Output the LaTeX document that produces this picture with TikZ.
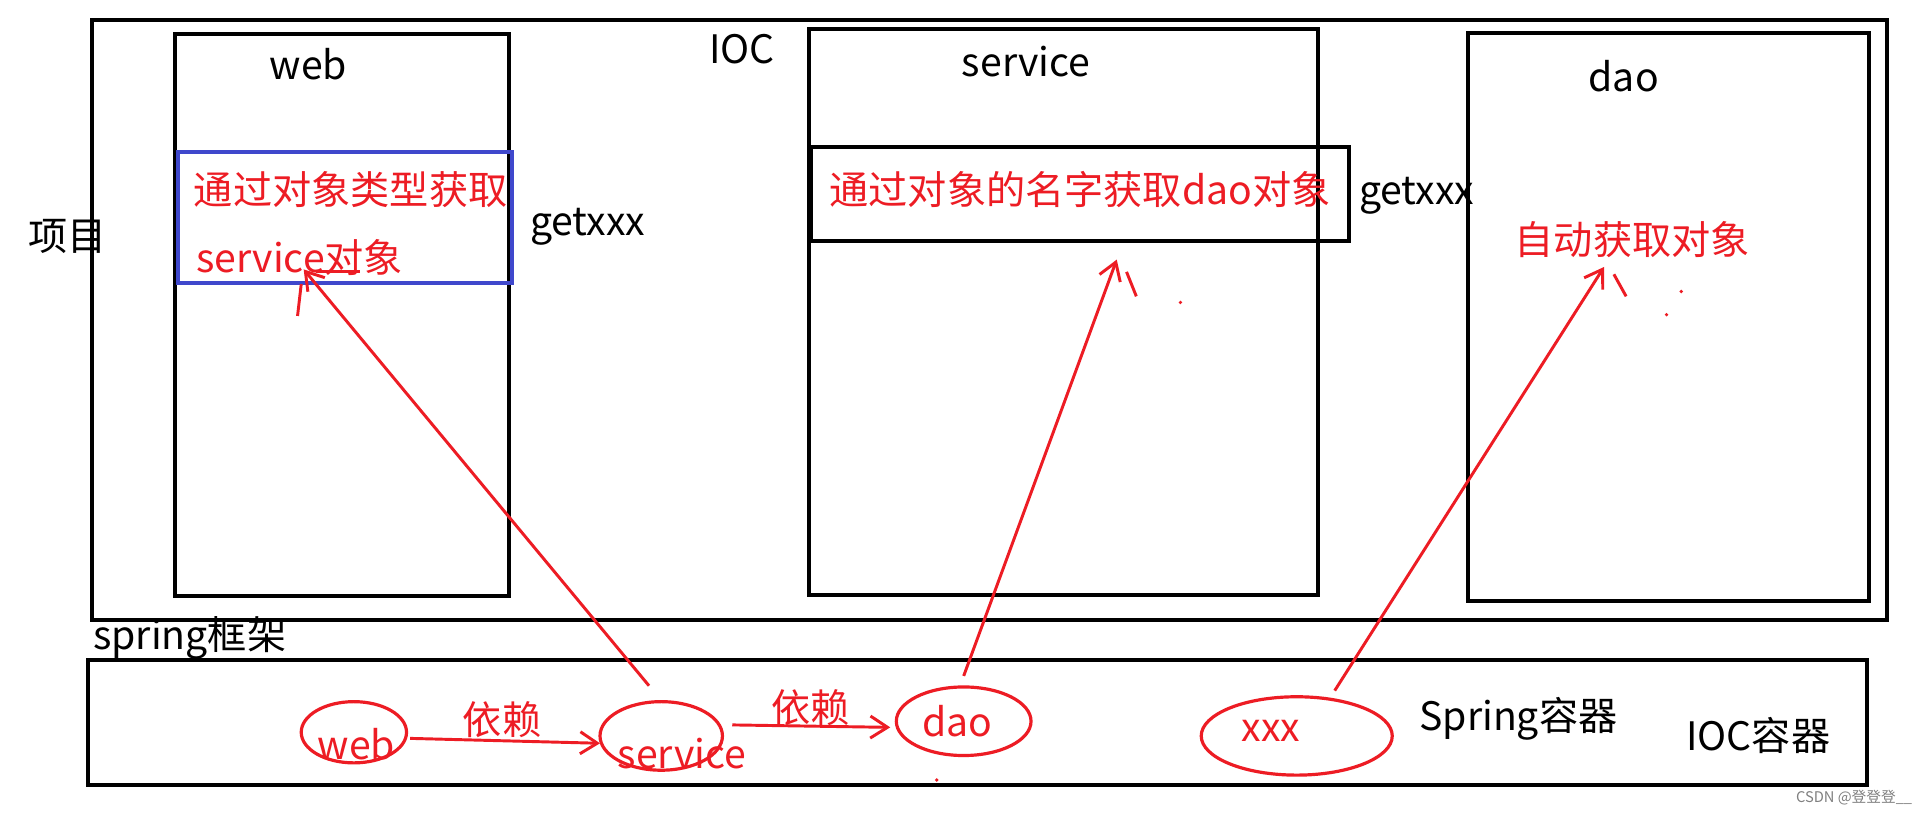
\documentclass[tikz,border=0pt]{standalone}
\usepackage{fontspec}
\setmainfont{Noto Sans CJK SC}
\usetikzlibrary{arrows.meta}
\definecolor{rd}{RGB}{237,28,36}
\definecolor{bl}{RGB}{63,72,204}
\begin{document}
\begin{tikzpicture}[x=0.5pt,y=-0.5pt,
  blk/.style={draw=black,line width=1.6pt},
  txt/.style={font=\fontsize{16}{18}\selectfont,inner sep=0pt},
  rtxt/.style={txt,text=rd},
  ell/.style={draw=rd,line width=1.3pt},
  rarr/.style={draw=rd,line width=1.2pt,-{Straight Barb[length=7pt,width=9pt]}}]
\useasboundingbox[fill=white] (0,0) rectangle (1568,666);
\draw[blk] (75,16) rectangle (1541,506);
\draw[blk] (143,28) rectangle (416,487);
\draw[blk] (661,24) rectangle (1076,486);
\draw[blk] (662,120) rectangle (1102,197);
\draw[blk] (1199,27) rectangle (1526,491);
\draw[blk] (72,539) rectangle (1525,641);
\draw[draw=bl,line width=1.6pt] (145,124) rectangle (418,231);
\node[txt] (tweb) at (252,52) {web};
\node[txt] (tioc) at (606,40) {IOC};
\node[txt] (tsvc) at (838,50) {service};
\node[txt] (tdao) at (1326,62) {dao};
\node[txt] (tpj) at (55,193) {项目};
\node[txt] (tg1) at (480,185) {getxxx};
\node[txt] (tg2) at (1157,160) {getxxx};
\node[txt] (tsf) at (155,521) {spring框架};
\node[txt] (tsc) at (1240,587) {Spring容器};
\node[txt] (tic) at (1436,601) {IOC容器};
\node[rtxt,anchor=west] (r1) at (158,155) {通过对象类型获取};
\node[rtxt,anchor=west] (r2) at (160,210) {service对象};
\node[rtxt] (r3) at (882,155) {通过对象的名字获取dao对象};
\node[rtxt] (r4) at (1333,196) {自动获取对象};
\draw[ell] (289,598) ellipse [x radius=43, y radius=25];
\draw[ell] (540,601) ellipse [x radius=50, y radius=28];
\draw[ell] (787,589) ellipse [x radius=55, y radius=28];
\draw[ell] (1059,601) ellipse [x radius=78, y radius=32];
\node[rtxt] (eweb) at (291,608) {web};
\node[rtxt] (esvc) at (557,615) {service};
\node[rtxt] (edao) at (782,589) {dao};
\node[rtxt] (exxx) at (1038,597) {xxx};
\node[rtxt] (d1) at (410,588) {依赖};
\node[rtxt] (d2) at (662,578) {依赖};
\coordinate (a1s) at (335,603); \coordinate (a1e) at (490,607);
\coordinate (a2s) at (598,592); \coordinate (a2e) at (727,594);
\coordinate (b1s) at (530,560); \coordinate (b1e) at (248,220);
\coordinate (b2s) at (787,552); \coordinate (b2e) at (912,212);
\coordinate (b3s) at (1090,564); \coordinate (b3e) at (1310,218);
\draw[rarr] (a1s) -- (a1e);
\draw[rarr] (a2s) -- (a2e);
\draw[rarr] (b1s) -- (b1e);
\draw[rarr] (b2s) -- (b2e);
\draw[rarr] (b3s) -- (b3e);
\draw[rd,line width=1.2pt] (243,258) -- (246,232);
\draw[rd,line width=1.2pt] (258,222) -- (294,222);
\draw[rd,line width=1.2pt] (920,222) -- (928,242);
\draw[rd,line width=1.2pt] (1318,224) -- (1328,242);
\fill[rd] (964,247) circle [radius=1.5];
\fill[rd] (1373,238) circle [radius=1.5];
\fill[rd] (1361,257) circle [radius=1.5];
\fill[rd] (765,637) circle [radius=1.5];
\node[font=\fontsize{6}{7}\selectfont,text=gray,anchor=east,inner sep=0pt] (csdn) at (1562,651) {CSDN @登登登\_\_};
\end{tikzpicture}
\end{document}
